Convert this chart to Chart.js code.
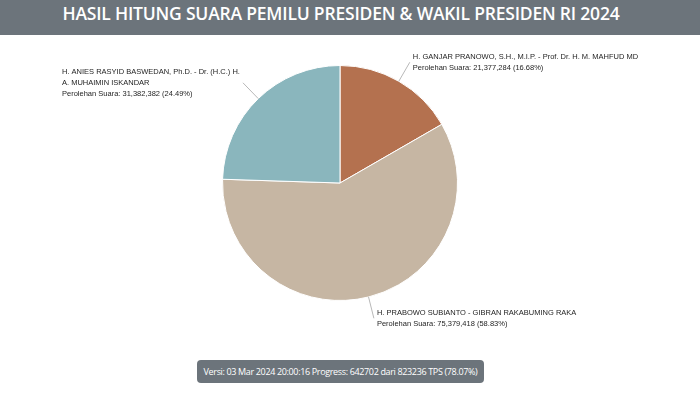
<!DOCTYPE html>
<html>
<head>
<meta charset="utf-8">
<script src="https://cdn.jsdelivr.net/npm/chart.js@4"></script>
<style>
  html, body { margin: 0; padding: 0; background: #fff; width: 700px; height: 393px; overflow: hidden; }
  #header {
    position: absolute; left: 0; top: 0; width: 700px; height: 35px;
    background: #6c747b; color: #fff; z-index: 2;
    font-family: "Open Sans", sans-serif; font-weight: 600;
    font-size: 17.5px; line-height: 26px; text-align: center; padding-right: 18px; box-sizing: border-box;
    letter-spacing: -0.2px; white-space: nowrap;
  }
  #wrap { position: absolute; left: 0; top: 0; width: 700px; height: 393px; }
  #footer {
    position: absolute; left: 197px; top: 360px; width: 287px; height: 23px;
    background: #6c747b; color: #fff; border-radius: 4px; z-index: 2;
    font-family: "Open Sans", sans-serif; font-size: 9px; line-height: 23px; text-align: center;
    letter-spacing: -0.35px; white-space: nowrap;
  }
</style>
</head>
<body>
<div id="header">HASIL HITUNG SUARA PEMILU PRESIDEN &amp; WAKIL PRESIDEN RI 2024</div>
<div id="wrap"><canvas id="pieChart" width="700" height="393"></canvas></div>
<div id="footer">Versi: 03 Mar 2024 20:00:16 Progress: 642702 dari 823236 TPS (78.07%)</div>
<script>
// candidates in drawing order (clockwise from top)
const candidates = [
  'H. GANJAR PRANOWO, S.H., M.I.P. - Prof. Dr. H. M. MAHFUD MD',
  'H. PRABOWO SUBIANTO - GIBRAN RAKABUMING RAKA',
  'H. ANIES RASYID BASWEDAN, Ph.D. - Dr. (H.C.) H. A. MUHAIMIN ISKANDAR',
];
const votes = [21377284, 75379418, 31382382];
const percents = ['16.68%', '58.83%', '24.49%'];
const colors = ['#b4714f', '#c6b6a3', '#8ab6bd'];

const labelFont = '7.5px "Liberation Sans", Arial, sans-serif';

function wrapText(ctx, text, maxWidth) {
  const words = text.split(' ');
  const lines = [];
  let line = '';
  words.forEach(w => {
    const test = line ? line + ' ' + w : w;
    if (ctx.measureText(test).width > maxWidth && line) {
      lines.push(line);
      line = w;
    } else {
      line = test;
    }
  });
  if (line) lines.push(line);
  return lines;
}

// leader lines + labels outside the slices
const outerLabels = {
  id: 'outerLabels',
  afterDatasetsDraw(chart) {
    const ctx = chart.ctx;
    const meta = chart.getDatasetMeta(0);
    ctx.save();
    ctx.font = labelFont;
    meta.data.forEach((arc, i) => {
      const mid = (arc.startAngle + arc.endAngle) / 2;
      const cos = Math.cos(mid), sin = Math.sin(mid);
      const r = arc.outerRadius;
      const x1 = arc.x + r * cos, y1 = arc.y + r * sin;
      const x2 = arc.x + (r + 22) * cos, y2 = arc.y + (r + 22) * sin;
      ctx.strokeStyle = '#b8b8b8';
      ctx.lineWidth = 1;
      ctx.beginPath();
      ctx.moveTo(x1, y1);
      ctx.lineTo(x2, y2);
      ctx.stroke();

      const right = cos >= 0;
      const avail = right ? chart.width - x2 - 10 : x2 - 62;
      const lines = wrapText(ctx, candidates[i], avail);
      lines.push('Perolehan Suara: ' + votes[i].toLocaleString('en-US') + ' (' + percents[i] + ')');
      const blockW = Math.max(...lines.map(l => ctx.measureText(l).width));
      const lh = 11;
      const tx = right ? x2 + 3 : x2 - 3 - blockW;
      const ty = y2 - (lines.length - 1) * lh / 2;
      ctx.fillStyle = '#1e1e1e';
      ctx.textAlign = 'left';
      ctx.textBaseline = 'middle';
      lines.forEach((l, k) => ctx.fillText(l, tx, ty + k * lh));
    });
    ctx.restore();
  }
};

new Chart(document.getElementById('pieChart').getContext('2d'), {
  type: 'pie',
  data: {
    labels: candidates,
    datasets: [{
      data: votes,
      backgroundColor: colors,
      borderColor: '#ffffff',
      borderWidth: 1,
      hoverOffset: 0,
    }],
  },
  options: {
    responsive: false,
    animation: false,
    layout: { padding: { left: 222, right: 242, top: 65, bottom: 92 } },
    plugins: {
      legend: { display: false },
      tooltip: { enabled: false },
    },
  },
  plugins: [outerLabels],
});
</script>
</body>
</html>
